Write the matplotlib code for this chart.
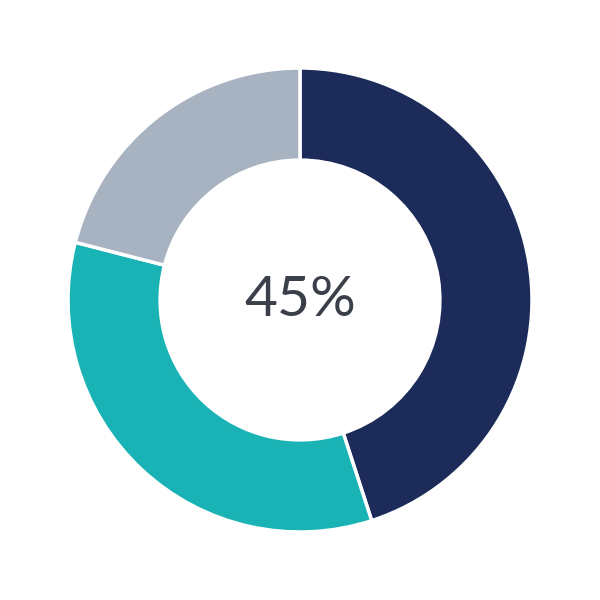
import matplotlib
matplotlib.use("Agg")
import matplotlib.pyplot as plt

# slice values (percent), clockwise from the top
labels = ["A", "B", "C"]
values = [45, 34, 21]
colors = ["#1c2b5a", "#1ab3b5", "#a8b3c2"]
center_text = "45%"

fig = plt.figure(figsize=(6, 6), dpi=100)
ax = fig.add_axes([0, 0, 1, 1])
ax.pie(values, colors=colors, startangle=90, counterclock=False, radius=1,
       wedgeprops=dict(width=0.397, edgecolor="white", linewidth=2.5))
ax.text(0, 0, center_text, ha="center", va="center", fontsize=41,
        family=["Lato", "DejaVu Sans"], color="#3a3f4a")
lim = 300 / 232
ax.set_xlim(-lim, lim)
ax.set_ylim(-lim, lim)
ax.set_aspect("equal")
ax.axis("off")
fig.savefig("out.png", dpi=100, facecolor="white")
